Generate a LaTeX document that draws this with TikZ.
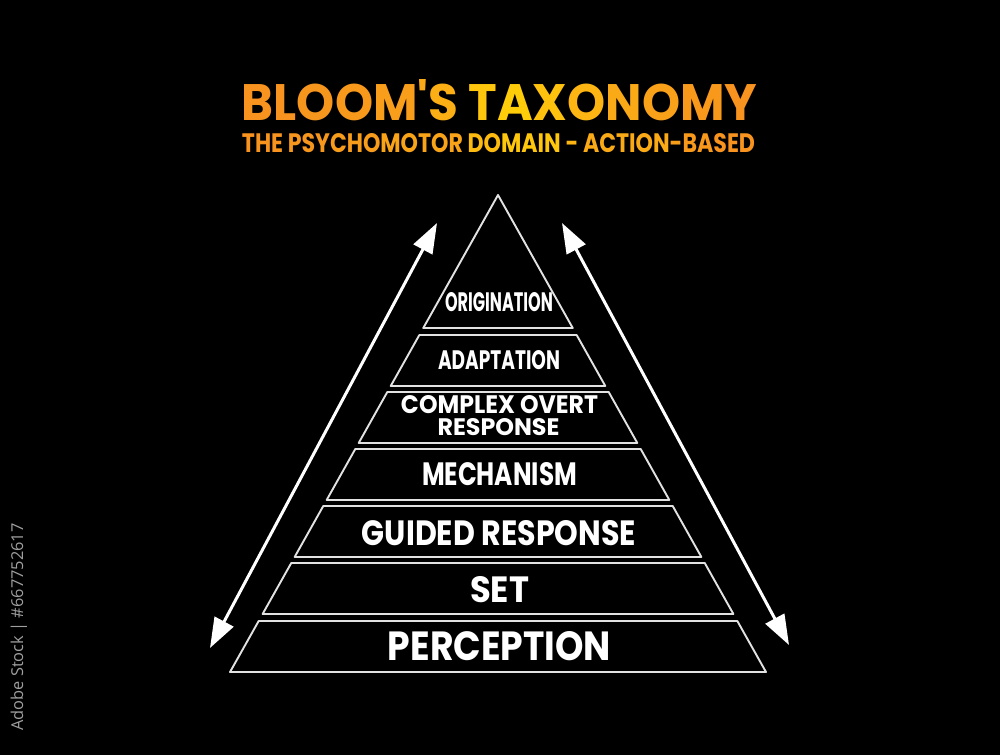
\documentclass[tikz,border=0pt]{standalone}
\usepackage{fontspec}
\usepackage{graphicx}
\usetikzlibrary{arrows.meta}
\newfontfamily\hand{Poppins}
\newfontfamily\wmfont{Open Sans}
\definecolor{tO}{HTML}{F7931E}
\definecolor{tY}{HTML}{FFCC0A}
\definecolor{edge}{HTML}{E2E2E2}
\newcommand{\fitbox}[3]{\resizebox{#1pt}{#2pt}{\hand\bfseries #3}}
\newcommand{\cl}[2]{\textcolor{tY!#1!tO}{#2}}
% band: top y, bottom y
\newcommand{\pyrband}[2]{%
  \draw[band] ({498-0.5618*(#1-195)},#1) -- ({498+0.5618*(#1-195)},#1)
    -- ({498+0.5618*(#2-195)},#2) -- ({498-0.5618*(#2-195)},#2) -- cycle;}
\begin{document}
\begin{tikzpicture}[x=1pt,y=-1pt,
  band/.style={draw=edge, line width=1.9pt, line join=round},
  lbl/.style={inner sep=0pt, text=white},
  ttl/.style={inner sep=0pt},
  bigarrow/.style={white, line width=3pt,
    {Triangle[length=30pt,width=21pt]}-{Triangle[length=30pt,width=21pt]}}]
\fill[black] (0,0) rectangle (1000,755);
\useasboundingbox (0,0) rectangle (1000,755);

% title
\node[ttl] (title) at (499.5,100.5) {\fitbox{515}{41}{\cl{0}{B}\cl{0}{L}\cl{5}{O}\cl{10}{O}\cl{20}{M}\cl{40}{'}\cl{50}{S} \cl{90}{T}\cl{100}{A}\cl{80}{X}\cl{60}{O}\cl{40}{N}\cl{25}{O}\cl{10}{M}\cl{0}{Y}}};
\node[ttl] (subtitle) at (498.5,143.5) {\fitbox{513}{19}{\cl{0}{THE} \cl{5}{PSY}\cl{15}{CHO}\cl{30}{MOTOR} \cl{70}{DO}\cl{90}{MAIN} \cl{60}{-} \cl{40}{ACTION}\cl{20}{-}\cl{10}{BA}\cl{0}{SED}}};

% pyramid
\draw[band] (498,195) -- ({498+0.5618*(328-195)},328) -- ({498-0.5618*(328-195)},328) -- cycle;
\pyrband{335}{386}
\pyrband{392}{443}
\pyrband{449}{500}
\pyrband{506}{557}
\pyrband{563}{614}
\pyrband{621}{672}

% labels
\node[lbl] (orig) at (499,302.5) {\fitbox{108}{19}{ORIGINATION}};
\node[lbl] (adap) at (499,360) {\fitbox{122}{19}{ADAPTATION}};
\node[lbl] (cor1) at (499.5,405) {\fitbox{197}{18}{COMPLEX OVERT}};
\node[lbl] (cor2) at (498.5,427) {\fitbox{122}{17}{RESPONSE}};
\node[lbl] (mech) at (499.5,474.5) {\fitbox{155}{23}{MECHANISM}};
\node[lbl] (guid) at (499,533) {\fitbox{274}{25}{GUIDED RESPONSE}};
\node[lbl] (set) at (499.5,590) {\fitbox{59}{26}{SET}};
\node[lbl] (perc) at (499.5,646) {\fitbox{223}{29}{PERCEPTION}};

% arrows
\coordinate (la1) at (210,648);
\coordinate (la2) at (437,223);
\coordinate (ra1) at (562,223);
\coordinate (ra2) at (789,645);
\draw[bigarrow] (la1) -- (la2);
\draw[bigarrow] (ra1) -- (ra2);

% side credit
\node[inner sep=0pt, rotate=90, text=gray!75] (wm) at (19,627) {\resizebox{207pt}{!}{\wmfont Adobe Stock | \#667752617}};
\end{tikzpicture}
\end{document}
